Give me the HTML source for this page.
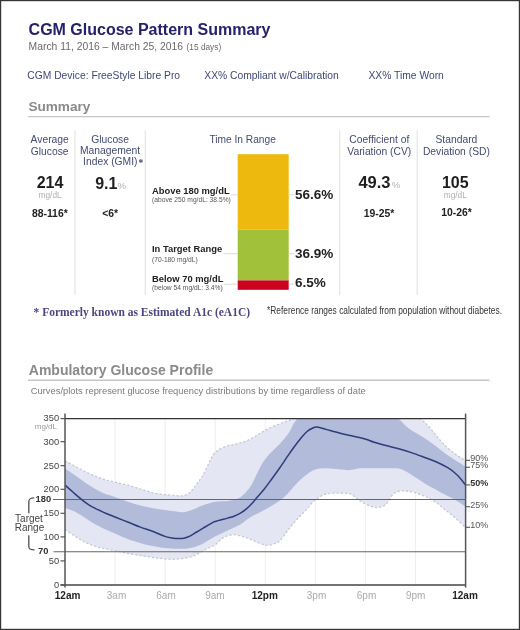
<!DOCTYPE html>
<html><head><meta charset="utf-8"><title>CGM Glucose Pattern Summary</title>
<style>
html,body{margin:0;padding:0;background:#fff;}
body{width:520px;height:630px;overflow:hidden;position:relative;}
svg{position:absolute;left:0;top:0;display:block;}
text{font-family:"Liberation Sans",Arial,Helvetica,sans-serif;}
.ttl{font-size:16px;font-weight:bold;fill:#25216b;}
.date{font-size:10.35px;fill:#6a6a6a;}
.days{font-size:8.3px;fill:#6a6a6a;}
.dev{font-size:10.3px;fill:#3f4878;}
.sec{font-size:13.6px;font-weight:bold;fill:#8a8a8a;}
.hd{font-size:10.3px;fill:#424b74;text-anchor:middle;}
.big{font-size:16px;font-weight:bold;fill:#1e1e1e;}
.unit{font-size:8.3px;fill:#b0b0b0;text-anchor:middle;}
.pct{font-size:9.6px;fill:#b0b0b0;}
.rng{font-size:10.4px;font-weight:bold;fill:#222;text-anchor:middle;}
.tl{font-size:9.4px;font-weight:bold;fill:#222;}
.ts{font-size:6.7px;fill:#555;}
.tp{font-size:13.5px;font-weight:bold;fill:#222;}
.fn{font-family:"Liberation Serif","Times New Roman",serif;font-size:11.5px;font-weight:bold;fill:#4b4682;}
.ref{font-size:10px;fill:#333;}
.sub{font-size:9.35px;fill:#7a7a7a;}
.yl{font-size:9.3px;fill:#444;text-anchor:end;}
.mgdl{font-size:8px;fill:#999;text-anchor:end;}
.tr{font-size:9.4px;font-weight:bold;fill:#333;text-anchor:end;}
.tgt{font-size:10px;fill:#444;text-anchor:middle;}
.pl{font-size:9px;fill:#555;}
.pb{font-size:9px;font-weight:bold;fill:#333;}
.xb{font-size:10px;font-weight:bold;fill:#1e1e1e;text-anchor:middle;}
.xr{font-size:10px;fill:#aaa;text-anchor:middle;}
</style></head>
<body>
<svg width="520" height="630" viewBox="0 0 520 630">
<rect x="0" y="0" width="520" height="630" fill="#fff"/>
<!-- header -->
<text x="28.6" y="34.9" class="ttl">CGM Glucose Pattern Summary</text>
<text x="28.6" y="49.6" class="date">March 11, 2016 – March 25, 2016</text>
<text x="186.6" y="49.6" class="days">(15 days)</text>
<text x="27.3" y="78.8" class="dev">CGM Device: FreeStyle Libre Pro</text>
<text x="204.3" y="78.8" class="dev">XX% Compliant w/Calibration</text>
<text x="368.5" y="78.8" class="dev">XX% Time Worn</text>
<!-- summary -->
<text x="28.4" y="111.2" class="sec">Summary</text>
<line x1="28" y1="116.6" x2="489.5" y2="116.6" stroke="#c6c6c6" stroke-width="1.4"/>
<g stroke="#e3e3e3" stroke-width="1.1">
<line x1="75" y1="130.4" x2="75" y2="295"/>
<line x1="145.3" y1="130.4" x2="145.3" y2="295"/>
<line x1="339.7" y1="130.4" x2="339.7" y2="295"/>
<line x1="417.2" y1="130.4" x2="417.2" y2="295"/>
</g>
<!-- col 1 -->
<text x="49.7" y="142.9" class="hd">Average</text>
<text x="49.7" y="154.6" class="hd">Glucose</text>
<text x="50" y="188.2" class="big" text-anchor="middle">214</text>
<text x="50.1" y="198.3" class="unit">mg/dL</text>
<text x="49.8" y="217" class="rng">88-116*</text>
<!-- col 2 -->
<text x="110.1" y="143.1" class="hd">Glucose</text>
<text x="110.1" y="154.2" class="hd">Management</text>
<text x="110.3" y="165" class="hd">Index (GMI)</text>
<text x="138.4" y="165.6" style="font-family:'Liberation Serif',serif;font-size:9.5px;font-weight:bold;fill:#3d3672;">*</text>
<text x="95.2" y="188.5" class="big">9.1</text>
<text x="117.4" y="188.5" class="pct">%</text>
<text x="110.2" y="216.6" class="rng">&lt;6*</text>
<!-- col 3 TIR -->
<text x="242.6" y="143.2" class="hd" style="font-size:10.2px">Time In Range</text>
<rect x="237.7" y="154.2" width="51" height="75.4" fill="#edb90e"/>
<rect x="237.7" y="229.6" width="51" height="50.8" fill="#a2c13a"/>
<rect x="237.7" y="280.4" width="51" height="9.4" fill="#cc0320"/>
<g stroke="#d0d0d0" stroke-width="0.8">
<line x1="230.5" y1="194.8" x2="237.7" y2="194.8"/>
<line x1="223.8" y1="253.7" x2="237.7" y2="253.7"/>
<line x1="223.8" y1="284.2" x2="237.7" y2="284.2"/>
<line x1="288.7" y1="194.8" x2="294" y2="194.8"/>
<line x1="288.7" y1="253.7" x2="294" y2="253.7"/>
<line x1="288.7" y1="284.2" x2="294" y2="284.2"/>
</g>
<text x="152" y="193.8" class="tl">Above 180 mg/dL</text>
<text x="152" y="201.9" class="ts">(above 250 mg/dL: 38.5%)</text>
<text x="152" y="252.1" class="tl">In Target Range</text>
<text x="152" y="261.7" class="ts">(70-180 mg/dL)</text>
<text x="152" y="281.5" class="tl">Below 70 mg/dL</text>
<text x="152" y="290.2" class="ts">(below 54 mg/dL: 3.4%)</text>
<text x="295.1" y="198.5" class="tp">56.6%</text>
<text x="295.1" y="257.7" class="tp">36.9%</text>
<text x="295.1" y="286.6" class="tp">6.5%</text>
<!-- col 4 CV -->
<text x="379.3" y="143.2" class="hd">Coefficient of</text>
<text x="379.3" y="155.3" class="hd">Variation (CV)</text>
<text x="358.4" y="188.2" class="big" style="font-size:16.5px">49.3</text>
<text x="391.8" y="188.3" class="pct">%</text>
<text x="379.1" y="216.7" class="rng">19-25*</text>
<!-- col 5 SD -->
<text x="456.4" y="143.2" class="hd">Standard</text>
<text x="456.4" y="155.3" class="hd">Deviation (SD)</text>
<text x="455.3" y="187.6" class="big" text-anchor="middle">105</text>
<text x="455.3" y="197.7" class="unit">mg/dL</text>
<text x="456.5" y="216.3" class="rng">10-26*</text>
<!-- footnotes -->
<text x="33.5" y="315.8" class="fn">* Formerly known as Estimated A1c (eA1C)</text>
<text x="267" y="314.2" class="ref" textLength="235" lengthAdjust="spacingAndGlyphs">*Reference ranges calculated from population without diabetes.</text>
<!-- AGP -->
<text x="28.8" y="375.2" class="sec" style="font-size:14px">Ambulatory Glucose Profile</text>
<line x1="28" y1="380.2" x2="489.5" y2="380.2" stroke="#c6c6c6" stroke-width="1.4"/>
<text x="30.8" y="393.6" class="sub">Curves/plots represent glucose frequency distributions by time regardless of date</text>
<defs><clipPath id="pc"><rect x="65" y="418.75" width="400.5" height="166.25"/></clipPath></defs>
<line x1="115.06" y1="419" x2="115.06" y2="585" stroke="#eeeeee" stroke-width="1"/>
<line x1="165.12" y1="419" x2="165.12" y2="585" stroke="#eeeeee" stroke-width="1"/>
<line x1="215.18" y1="419" x2="215.18" y2="585" stroke="#eeeeee" stroke-width="1"/>
<line x1="265.24" y1="419" x2="265.24" y2="585" stroke="#eeeeee" stroke-width="1"/>
<line x1="315.30" y1="419" x2="315.30" y2="585" stroke="#eeeeee" stroke-width="1"/>
<line x1="365.36" y1="419" x2="365.36" y2="585" stroke="#eeeeee" stroke-width="1"/>
<line x1="415.42" y1="419" x2="415.42" y2="585" stroke="#eeeeee" stroke-width="1"/>
<g clip-path="url(#pc)">
<path d="M65.00,460.80 C67.12,461.95 73.47,465.50 77.70,467.70 C81.93,469.90 86.17,472.10 90.40,474.00 C94.63,475.90 99.00,477.73 103.10,479.10 C107.20,480.47 110.90,481.18 115.00,482.20 C119.10,483.22 123.47,484.07 127.70,485.20 C131.93,486.33 136.17,487.73 140.40,489.00 C144.63,490.27 149.00,491.85 153.10,492.80 C157.20,493.75 160.90,494.20 165.00,494.70 C169.10,495.20 174.53,495.65 177.70,495.80 C180.87,495.95 181.88,496.20 184.00,495.60 C186.12,495.00 188.35,494.03 190.40,492.20 C192.45,490.37 194.25,487.35 196.30,484.60 C198.35,481.85 200.58,479.30 202.70,475.70 C204.82,472.10 207.30,466.38 209.00,463.00 C210.70,459.62 211.42,457.52 212.90,455.40 C214.38,453.28 215.78,451.78 217.90,450.30 C220.02,448.82 223.05,447.45 225.60,446.50 C228.15,445.55 230.80,445.18 233.20,444.60 C235.60,444.02 237.82,443.60 240.00,443.00 C242.18,442.40 244.18,441.85 246.30,441.00 C248.42,440.15 250.58,439.07 252.70,437.90 C254.82,436.73 256.88,435.28 259.00,434.00 C261.12,432.72 263.28,431.35 265.40,430.20 C267.52,429.05 269.58,428.05 271.70,427.10 C273.82,426.15 275.98,425.35 278.10,424.50 C280.22,423.65 282.42,422.73 284.40,422.00 C286.38,421.27 288.07,420.85 290.00,420.10 C291.93,419.35 291.00,419.18 296.00,417.50 C301.00,415.82 307.67,411.58 320.00,410.00 C332.33,408.42 355.83,407.83 370.00,408.00 C384.17,408.17 396.48,409.08 405.00,411.00 C413.52,412.92 417.15,416.93 421.10,419.50 C425.05,422.07 426.38,423.98 428.70,426.40 C431.02,428.82 432.88,431.45 435.00,434.00 C437.12,436.55 439.28,439.37 441.40,441.70 C443.52,444.03 445.58,446.10 447.70,448.00 C449.82,449.90 451.98,451.52 454.10,453.10 C456.22,454.68 458.50,456.22 460.40,457.50 C462.30,458.78 464.65,460.25 465.50,460.80 L465.50,527.50 C463.67,525.80 457.95,520.32 454.50,517.30 C451.05,514.28 448.02,511.97 444.80,509.40 C441.58,506.83 438.40,504.03 435.20,501.90 C432.00,499.77 428.97,498.15 425.60,496.60 C422.23,495.05 418.05,493.50 415.00,492.60 C411.95,491.70 409.55,491.50 407.30,491.20 C405.05,490.90 403.42,490.62 401.50,490.80 C399.58,490.98 397.40,491.52 395.80,492.30 C394.20,493.08 393.18,493.93 391.90,495.50 C390.62,497.07 389.38,500.02 388.10,501.70 C386.82,503.38 385.97,504.63 384.20,505.60 C382.43,506.57 379.73,507.38 377.50,507.50 C375.27,507.62 373.17,507.10 370.80,506.30 C368.43,505.50 365.35,503.78 363.30,502.70 C361.25,501.62 360.10,500.92 358.50,499.80 C356.90,498.68 355.32,497.03 353.70,496.00 C352.08,494.97 351.22,494.10 348.80,493.60 C346.38,493.10 342.58,493.00 339.20,493.00 C335.82,493.00 331.57,493.07 328.50,493.60 C325.43,494.13 323.38,494.83 320.80,496.20 C318.22,497.57 315.32,499.63 313.00,501.80 C310.68,503.97 309.45,506.42 306.90,509.20 C304.35,511.98 300.77,515.12 297.70,518.50 C294.63,521.88 291.45,525.82 288.50,529.50 C285.55,533.18 282.45,538.22 280.00,540.60 C277.55,542.98 275.85,543.02 273.80,543.80 C271.75,544.58 269.75,545.28 267.70,545.30 C265.65,545.32 264.32,544.88 261.50,543.90 C258.68,542.92 254.13,540.68 250.80,539.40 C247.47,538.12 244.58,536.98 241.50,536.20 C238.42,535.42 235.38,534.42 232.30,534.70 C229.22,534.98 225.82,536.25 223.00,537.90 C220.18,539.55 218.08,542.78 215.40,544.60 C212.72,546.42 209.80,547.30 206.90,548.80 C204.00,550.30 200.75,552.23 198.00,553.60 C195.25,554.97 194.23,556.05 190.40,557.00 C186.57,557.95 179.90,559.05 175.00,559.30 C170.10,559.55 165.17,558.88 161.00,558.50 C156.83,558.12 153.83,557.55 150.00,557.00 C146.17,556.45 141.92,555.83 138.00,555.20 C134.08,554.57 130.33,553.97 126.50,553.20 C122.67,552.43 118.83,551.42 115.00,550.60 C111.17,549.78 107.03,549.10 103.50,548.30 C99.97,547.50 97.02,546.88 93.80,545.80 C90.58,544.72 87.40,543.43 84.20,541.80 C81.00,540.17 77.80,538.05 74.60,536.00 C71.40,533.95 66.60,530.58 65.00,529.50 Z" fill="#e4e6f4"/>
<path d="M65.00,468.50 C67.12,469.95 73.47,474.27 77.70,477.20 C81.93,480.13 86.17,483.45 90.40,486.10 C94.63,488.75 99.00,491.28 103.10,493.10 C107.20,494.92 110.90,495.57 115.00,497.00 C119.10,498.43 123.47,500.28 127.70,501.70 C131.93,503.12 136.17,504.40 140.40,505.50 C144.63,506.60 149.00,507.55 153.10,508.30 C157.20,509.05 160.90,509.43 165.00,510.00 C169.10,510.57 174.53,511.33 177.70,511.70 C180.87,512.07 181.88,512.38 184.00,512.20 C186.12,512.02 188.28,511.32 190.40,510.60 C192.52,509.88 194.58,508.78 196.70,507.90 C198.82,507.02 200.05,506.32 203.10,505.30 C206.15,504.28 210.90,502.52 215.00,501.80 C219.10,501.08 223.88,501.53 227.70,501.00 C231.52,500.47 234.93,499.98 237.90,498.60 C240.87,497.22 243.38,494.75 245.50,492.70 C247.62,490.65 249.18,488.42 250.60,486.30 C252.02,484.18 252.80,482.37 254.00,480.00 C255.20,477.63 256.53,474.68 257.80,472.10 C259.07,469.52 260.12,466.98 261.60,464.50 C263.08,462.02 264.80,459.52 266.70,457.20 C268.60,454.88 270.68,452.97 273.00,450.60 C275.32,448.23 278.27,445.55 280.60,443.00 C282.93,440.45 285.43,437.30 287.00,435.30 C288.57,433.30 289.00,432.72 290.00,431.00 C291.00,429.28 291.75,427.07 293.00,425.00 C294.25,422.93 295.50,420.60 297.50,418.60 C299.50,416.60 297.92,414.77 305.00,413.00 C312.08,411.23 327.50,408.33 340.00,408.00 C352.50,407.67 370.43,409.28 380.00,411.00 C389.57,412.72 393.23,415.93 397.40,418.30 C401.57,420.67 402.73,423.25 405.00,425.20 C407.27,427.15 409.17,428.70 411.00,430.00 C412.83,431.30 414.12,431.87 416.00,433.00 C417.88,434.13 420.18,435.47 422.30,436.80 C424.42,438.13 426.58,439.55 428.70,441.00 C430.82,442.45 432.88,443.90 435.00,445.50 C437.12,447.10 439.28,448.97 441.40,450.60 C443.52,452.23 445.58,453.83 447.70,455.30 C449.82,456.77 451.98,458.07 454.10,459.40 C456.22,460.73 458.50,462.03 460.40,463.30 C462.30,464.57 464.65,466.38 465.50,467.00 L465.50,506.50 C463.67,505.33 457.95,501.50 454.50,499.50 C451.05,497.50 448.02,496.22 444.80,494.50 C441.58,492.78 438.40,490.97 435.20,489.20 C432.00,487.43 428.52,485.65 425.60,483.90 C422.68,482.15 420.07,480.23 417.70,478.70 C415.33,477.17 413.52,476.00 411.40,474.70 C409.28,473.40 407.12,471.93 405.00,470.90 C402.88,469.87 401.87,468.93 398.70,468.50 C395.53,468.07 392.22,468.33 386.00,468.30 C379.78,468.27 366.57,468.13 361.40,468.30 C356.23,468.47 357.12,468.98 355.00,469.30 C352.88,469.62 350.82,470.15 348.70,470.20 C346.58,470.25 345.42,469.90 342.30,469.60 C339.18,469.30 333.72,468.58 330.00,468.40 C326.28,468.22 322.85,468.15 320.00,468.50 C317.15,468.85 315.05,469.53 312.90,470.50 C310.75,471.47 309.73,472.23 307.10,474.30 C304.47,476.37 300.43,479.57 297.10,482.90 C293.77,486.23 290.18,491.22 287.10,494.30 C284.02,497.38 282.40,498.78 278.60,501.40 C274.80,504.02 269.07,507.32 264.30,510.00 C259.53,512.68 253.98,515.10 250.00,517.50 C246.02,519.90 244.12,522.25 240.40,524.40 C236.68,526.55 231.93,528.38 227.70,530.40 C223.47,532.42 219.10,534.33 215.00,536.50 C210.90,538.67 207.20,541.50 203.10,543.40 C199.00,545.30 195.08,547.02 190.40,547.90 C185.72,548.78 179.90,548.77 175.00,548.70 C170.10,548.63 165.17,548.02 161.00,547.50 C156.83,546.98 153.50,546.35 150.00,545.60 C146.50,544.85 143.83,544.13 140.00,543.00 C136.17,541.87 131.17,540.38 127.00,538.80 C122.83,537.22 118.92,535.20 115.00,533.50 C111.08,531.80 107.03,530.25 103.50,528.60 C99.97,526.95 97.02,525.48 93.80,523.60 C90.58,521.72 87.40,519.32 84.20,517.30 C81.00,515.28 77.80,513.07 74.60,511.50 C71.40,509.93 66.60,508.50 65.00,507.90 Z" fill="#b2bbda"/>
<path d="M65.00,460.80 C67.12,461.95 73.47,465.50 77.70,467.70 C81.93,469.90 86.17,472.10 90.40,474.00 C94.63,475.90 99.00,477.73 103.10,479.10 C107.20,480.47 110.90,481.18 115.00,482.20 C119.10,483.22 123.47,484.07 127.70,485.20 C131.93,486.33 136.17,487.73 140.40,489.00 C144.63,490.27 149.00,491.85 153.10,492.80 C157.20,493.75 160.90,494.20 165.00,494.70 C169.10,495.20 174.53,495.65 177.70,495.80 C180.87,495.95 181.88,496.20 184.00,495.60 C186.12,495.00 188.35,494.03 190.40,492.20 C192.45,490.37 194.25,487.35 196.30,484.60 C198.35,481.85 200.58,479.30 202.70,475.70 C204.82,472.10 207.30,466.38 209.00,463.00 C210.70,459.62 211.42,457.52 212.90,455.40 C214.38,453.28 215.78,451.78 217.90,450.30 C220.02,448.82 223.05,447.45 225.60,446.50 C228.15,445.55 230.80,445.18 233.20,444.60 C235.60,444.02 237.82,443.60 240.00,443.00 C242.18,442.40 244.18,441.85 246.30,441.00 C248.42,440.15 250.58,439.07 252.70,437.90 C254.82,436.73 256.88,435.28 259.00,434.00 C261.12,432.72 263.28,431.35 265.40,430.20 C267.52,429.05 269.58,428.05 271.70,427.10 C273.82,426.15 275.98,425.35 278.10,424.50 C280.22,423.65 282.42,422.73 284.40,422.00 C286.38,421.27 288.07,420.85 290.00,420.10 C291.93,419.35 291.00,419.18 296.00,417.50 C301.00,415.82 307.67,411.58 320.00,410.00 C332.33,408.42 355.83,407.83 370.00,408.00 C384.17,408.17 396.48,409.08 405.00,411.00 C413.52,412.92 417.15,416.93 421.10,419.50 C425.05,422.07 426.38,423.98 428.70,426.40 C431.02,428.82 432.88,431.45 435.00,434.00 C437.12,436.55 439.28,439.37 441.40,441.70 C443.52,444.03 445.58,446.10 447.70,448.00 C449.82,449.90 451.98,451.52 454.10,453.10 C456.22,454.68 458.50,456.22 460.40,457.50 C462.30,458.78 464.65,460.25 465.50,460.80" fill="none" stroke="#c4c6d3" stroke-width="1.25" stroke-dasharray="2.2 2"/>
<path d="M65.00,529.50 C66.60,530.58 71.40,533.95 74.60,536.00 C77.80,538.05 81.00,540.17 84.20,541.80 C87.40,543.43 90.58,544.72 93.80,545.80 C97.02,546.88 99.97,547.50 103.50,548.30 C107.03,549.10 111.17,549.78 115.00,550.60 C118.83,551.42 122.67,552.43 126.50,553.20 C130.33,553.97 134.08,554.57 138.00,555.20 C141.92,555.83 146.17,556.45 150.00,557.00 C153.83,557.55 156.83,558.12 161.00,558.50 C165.17,558.88 170.10,559.55 175.00,559.30 C179.90,559.05 186.57,557.95 190.40,557.00 C194.23,556.05 195.25,554.97 198.00,553.60 C200.75,552.23 204.00,550.30 206.90,548.80 C209.80,547.30 212.72,546.42 215.40,544.60 C218.08,542.78 220.18,539.55 223.00,537.90 C225.82,536.25 229.22,534.98 232.30,534.70 C235.38,534.42 238.42,535.42 241.50,536.20 C244.58,536.98 247.47,538.12 250.80,539.40 C254.13,540.68 258.68,542.92 261.50,543.90 C264.32,544.88 265.65,545.32 267.70,545.30 C269.75,545.28 271.75,544.58 273.80,543.80 C275.85,543.02 277.55,542.98 280.00,540.60 C282.45,538.22 285.55,533.18 288.50,529.50 C291.45,525.82 294.63,521.88 297.70,518.50 C300.77,515.12 304.35,511.98 306.90,509.20 C309.45,506.42 310.68,503.97 313.00,501.80 C315.32,499.63 318.22,497.57 320.80,496.20 C323.38,494.83 325.43,494.13 328.50,493.60 C331.57,493.07 335.82,493.00 339.20,493.00 C342.58,493.00 346.38,493.10 348.80,493.60 C351.22,494.10 352.08,494.97 353.70,496.00 C355.32,497.03 356.90,498.68 358.50,499.80 C360.10,500.92 361.25,501.62 363.30,502.70 C365.35,503.78 368.43,505.50 370.80,506.30 C373.17,507.10 375.27,507.62 377.50,507.50 C379.73,507.38 382.43,506.57 384.20,505.60 C385.97,504.63 386.82,503.38 388.10,501.70 C389.38,500.02 390.62,497.07 391.90,495.50 C393.18,493.93 394.20,493.08 395.80,492.30 C397.40,491.52 399.58,490.98 401.50,490.80 C403.42,490.62 405.05,490.90 407.30,491.20 C409.55,491.50 411.95,491.70 415.00,492.60 C418.05,493.50 422.23,495.05 425.60,496.60 C428.97,498.15 432.00,499.77 435.20,501.90 C438.40,504.03 441.58,506.83 444.80,509.40 C448.02,511.97 451.05,514.28 454.50,517.30 C457.95,520.32 463.67,525.80 465.50,527.50" fill="none" stroke="#c4c6d3" stroke-width="1.25" stroke-dasharray="2.2 2"/>
</g>
<line x1="53" y1="499.50" x2="465.5" y2="499.50" stroke="#666" stroke-width="1"/>
<line x1="53.5" y1="551.75" x2="465.5" y2="551.75" stroke="#666" stroke-width="1"/>
<path d="M65.00,485.00 C66.27,486.13 69.85,489.40 72.60,491.80 C75.35,494.20 78.53,497.07 81.50,499.40 C84.47,501.73 86.80,503.68 90.40,505.80 C94.00,507.92 99.00,510.23 103.10,512.10 C107.20,513.97 110.90,515.35 115.00,517.00 C119.10,518.65 123.47,520.32 127.70,522.00 C131.93,523.68 136.17,525.52 140.40,527.10 C144.63,528.68 149.00,529.95 153.10,531.50 C157.20,533.05 161.85,535.33 165.00,536.40 C168.15,537.47 169.83,537.53 172.00,537.90 C174.17,538.27 176.00,538.55 178.00,538.60 C180.00,538.65 181.93,538.65 184.00,538.20 C186.07,537.75 188.28,536.93 190.40,535.90 C192.52,534.87 194.58,533.28 196.70,532.00 C198.82,530.72 200.98,529.47 203.10,528.20 C205.22,526.93 207.42,525.52 209.40,524.40 C211.38,523.28 211.95,522.55 215.00,521.50 C218.05,520.45 224.53,518.98 227.70,518.10 C230.87,517.22 231.88,517.02 234.00,516.20 C236.12,515.38 238.28,514.47 240.40,513.20 C242.52,511.93 244.58,510.43 246.70,508.60 C248.82,506.77 251.40,504.03 253.10,502.20 C254.80,500.37 255.03,499.80 256.90,497.60 C258.77,495.40 261.88,492.02 264.30,489.00 C266.72,485.98 269.02,482.75 271.40,479.50 C273.78,476.25 276.67,472.22 278.60,469.50 C280.53,466.78 281.43,465.52 283.00,463.20 C284.57,460.88 286.12,458.35 288.00,455.60 C289.88,452.85 292.18,449.55 294.30,446.70 C296.42,443.85 298.58,441.03 300.70,438.50 C302.82,435.97 304.88,433.30 307.00,431.50 C309.12,429.70 311.70,428.43 313.40,427.70 C315.10,426.97 315.08,426.82 317.20,427.10 C319.32,427.38 322.97,428.57 326.10,429.40 C329.23,430.23 332.23,431.12 336.00,432.10 C339.77,433.08 344.47,434.33 348.70,435.30 C352.93,436.27 358.23,437.15 361.40,437.90 C364.57,438.65 365.58,439.07 367.70,439.80 C369.82,440.53 371.05,441.33 374.10,442.30 C377.15,443.27 381.90,444.52 386.00,445.60 C390.10,446.68 394.47,447.63 398.70,448.80 C402.93,449.97 407.17,451.20 411.40,452.60 C415.63,454.00 420.00,455.67 424.10,457.20 C428.20,458.73 432.07,460.05 436.00,461.80 C439.93,463.55 444.68,465.97 447.70,467.70 C450.72,469.43 451.98,470.42 454.10,472.20 C456.22,473.98 458.50,476.27 460.40,478.40 C462.30,480.53 464.65,483.90 465.50,485.00" fill="none" stroke="#2e3c7c" stroke-width="1.5" clip-path="url(#pc)"/>
<line x1="65" y1="418.6" x2="465.5" y2="418.6" stroke="#333" stroke-width="1.4"/>
<line x1="60.5" y1="585" x2="465.5" y2="585" stroke="#444" stroke-width="1.5"/>
<line x1="65" y1="413.6" x2="65" y2="587.6" stroke="#555" stroke-width="1.5"/>
<line x1="465.6" y1="413.6" x2="465.6" y2="587.6" stroke="#555" stroke-width="1.5"/>
<line x1="60.5" y1="418.60" x2="65" y2="418.60" stroke="#555" stroke-width="1.2"/>
<text x="59.1" y="421.40" class="yl">350</text>
<line x1="60.5" y1="441.70" x2="65" y2="441.70" stroke="#555" stroke-width="1.2"/>
<text x="59.1" y="444.50" class="yl">300</text>
<line x1="60.5" y1="465.70" x2="65" y2="465.70" stroke="#555" stroke-width="1.2"/>
<text x="59.1" y="468.50" class="yl">250</text>
<line x1="60.5" y1="489.30" x2="65" y2="489.30" stroke="#555" stroke-width="1.2"/>
<text x="59.1" y="492.10" class="yl">200</text>
<line x1="60.5" y1="513.30" x2="65" y2="513.30" stroke="#555" stroke-width="1.2"/>
<text x="59.1" y="516.10" class="yl">150</text>
<line x1="60.5" y1="536.90" x2="65" y2="536.90" stroke="#555" stroke-width="1.2"/>
<text x="59.1" y="539.70" class="yl">100</text>
<line x1="60.5" y1="560.90" x2="65" y2="560.90" stroke="#555" stroke-width="1.2"/>
<text x="59.1" y="563.70" class="yl">50</text>
<line x1="60.5" y1="585.00" x2="65" y2="585.00" stroke="#555" stroke-width="1.2"/>
<text x="59.1" y="587.80" class="yl">0</text>
<text x="57" y="428.7" class="mgdl">mg/dL</text>
<text x="51.2" y="501.5" class="tr">180</text>
<text x="48.4" y="554" class="tr">70</text>
<path d="M34.2,497.8 C30,497.8 28.8,499 28.8,502 L28.8,513.2" fill="none" stroke="#555" stroke-width="1.35"/>
<path d="M28.8,535.2 L28.8,546.5 C28.8,549 30,549.8 34.6,549.8" fill="none" stroke="#555" stroke-width="1.35"/>
<text x="29" y="522" class="tgt">Target</text>
<text x="29.5" y="531.2" class="tgt">Range</text>
<line x1="465.6" y1="460.30" x2="470" y2="460.30" stroke="#555" stroke-width="1.1"/>
<text x="470.2" y="461.30" class="pl">90%</text>
<line x1="465.6" y1="467.30" x2="470" y2="467.30" stroke="#555" stroke-width="1.1"/>
<text x="470.2" y="468.30" class="pl">75%</text>
<line x1="465.6" y1="484.90" x2="470" y2="484.90" stroke="#555" stroke-width="1.1"/>
<text x="470.2" y="485.90" class="pb">50%</text>
<line x1="465.6" y1="506.70" x2="470" y2="506.70" stroke="#555" stroke-width="1.1"/>
<text x="470.2" y="507.70" class="pl">25%</text>
<line x1="465.6" y1="527.30" x2="470" y2="527.30" stroke="#555" stroke-width="1.1"/>
<text x="470.2" y="528.30" class="pl">10%</text>
<text x="67.60" y="598.7" class="xb">12am</text>
<text x="116.50" y="598.7" class="xr">3am</text>
<text x="166.00" y="598.7" class="xr">6am</text>
<text x="214.90" y="598.7" class="xr">9am</text>
<text x="264.80" y="598.7" class="xb">12pm</text>
<text x="316.50" y="598.7" class="xr">3pm</text>
<text x="366.50" y="598.7" class="xr">6pm</text>
<text x="415.70" y="598.7" class="xr">9pm</text>
<text x="465.00" y="598.7" class="xb">12am</text>
<!-- outer border -->
<rect x="0.6" y="0.6" width="518.8" height="628.8" fill="none" stroke="#363636" stroke-width="1.2"/>
</svg>
</body></html>
